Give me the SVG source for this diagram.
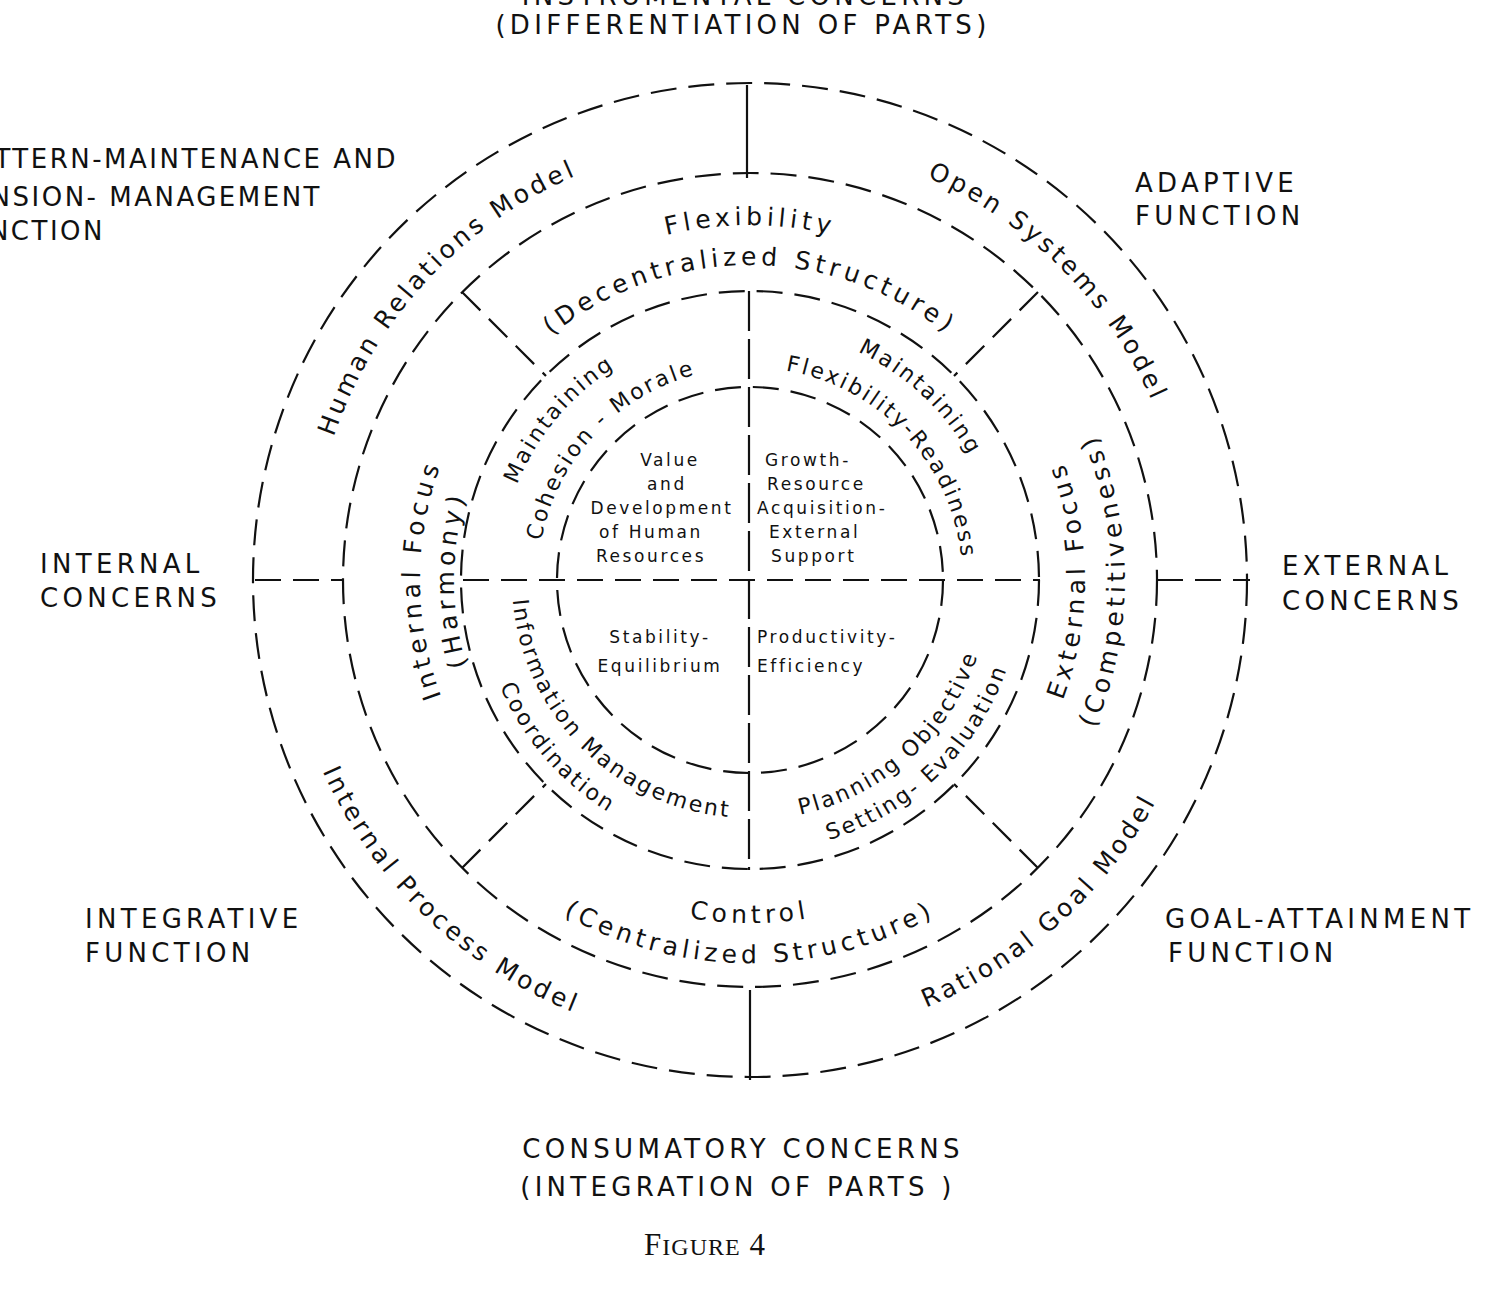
<svg xmlns="http://www.w3.org/2000/svg" width="1493" height="1295" viewBox="0 0 1493 1295">
<style>
.d{fill:none;stroke:#111;stroke-width:2.2;stroke-dasharray:26 12}
.s{fill:none;stroke:#111;stroke-width:2.2}
text{font-family:"DejaVu Sans","Liberation Sans",sans-serif;fill:#111}
.ext{font-size:26px;letter-spacing:4.3px}
.ring{font-size:25px;letter-spacing:3.5px}
.mid{font-size:25px;letter-spacing:4.5px}
.in{font-size:22px;letter-spacing:2.5px}
.q{font-size:17px;letter-spacing:2.6px;text-anchor:middle}
.qs{text-anchor:start}
.fig{font-family:"Liberation Serif",serif;font-size:31px;letter-spacing:1px}
</style>
<defs>
<path id="pA" d="M398.5,844.9 A440,440 0 0 1 989.6,211"/>
<path id="pB" d="M497.6,219.6 A440,440 0 0 1 1110.4,832.4"/>
<path id="pC" d="M465.4,944.1 A462,462 0 0 0 1141.8,335.1"/>
<path id="pD" d="M352,340 A462,462 0 0 0 1005,965"/>
<path id="pE" d="M400.4,518.4 A355,355 0 0 1 1099.6,518.4"/>
<path id="pF" d="M439.8,525.3 A315,315 0 0 1 1060.2,525.3"/>
<path id="pG" d="M412.2,639.7 A343,343 0 0 0 1087.8,639.7"/>
<path id="pH" d="M372.8,646.6 A383,383 0 0 0 1127.2,646.6"/>
<path id="pI" d="M557,742 A252,252 0 0 1 876,361.8"/>
<path id="pJ" d="M580.6,707.6 A212,212 0 0 1 865.5,402.1"/>
<path id="pK" d="M598.3,378.7 A252,252 0 0 1 961.4,717.3"/>
<path id="pL" d="M634.5,402.1 A212,212 0 0 1 919.4,707.6"/>
<path id="pM" d="M555.1,443.4 A238,238 0 0 0 886.6,774.9"/>
<path id="pN" d="M538.6,408.9 A272,272 0 0 0 890.1,813.1"/>
<path id="pO" d="M602.2,769.1 A240,240 0 0 0 953.5,452.8"/>
<path id="pP" d="M590.1,800 A272,272 0 0 0 975.5,428"/>
<path id="pQ" d="M692.7,905 A330,330 0 0 1 692.7,255"/>
<path id="pR" d="M698.6,871.5 A296,296 0 0 1 698.6,288.5"/>
<path id="pS" d="M808.2,909.9 A335,335 0 0 0 808.2,250.1"/>
<path id="pT" d="M815.1,949.3 A375,375 0 0 0 815.1,210.7"/>
</defs>
<g id="connectors">
<circle class="d" cx="750" cy="580" r="497"/>
<circle class="d" cx="750" cy="580" r="407"/>
<circle class="d" cx="750" cy="580" r="289"/>
<circle class="d" cx="750" cy="580" r="193"/>
<line class="d" x1="255" y1="580" x2="343" y2="580"/>
<line class="d" x1="1157" y1="580" x2="1250" y2="580"/>
<line class="d" x1="463" y1="580" x2="1040" y2="580"/>
<line class="s" x1="747" y1="85" x2="747" y2="178"/>
<line class="s" x1="750" y1="990" x2="750" y2="1080"/>
<line class="d" x1="749" y1="291" x2="749" y2="870" style="stroke-dasharray:40 8"/>
<line class="d" x1="462" y1="292" x2="546" y2="376"/>
<line class="d" x1="1038" y1="292" x2="954" y2="376"/>
<line class="d" x1="462" y1="868" x2="546" y2="784"/>
<line class="d" x1="1038" y1="868" x2="954" y2="784"/>
</g>
<g id="outer-labels" class="ext">
<text x="745" y="5" text-anchor="middle">INSTRUMENTAL  CONCERNS</text>
<text x="743" y="34" text-anchor="middle">(DIFFERENTIATION  OF  PARTS)</text>
<text x="398" y="168" text-anchor="end" style="letter-spacing:2.5px">PATTERN-MAINTENANCE AND</text>
<text x="322" y="206" text-anchor="end" style="letter-spacing:2.5px">TENSION- MANAGEMENT</text>
<text x="105" y="240" text-anchor="end" style="letter-spacing:2.5px">FUNCTION</text>
<text x="1135" y="192">ADAPTIVE</text>
<text x="1135" y="225">FUNCTION</text>
<text x="40" y="573">INTERNAL</text>
<text x="40" y="607">CONCERNS</text>
<text x="1282" y="575">EXTERNAL</text>
<text x="1282" y="610">CONCERNS</text>
<text x="85" y="928">INTEGRATIVE</text>
<text x="85" y="962">FUNCTION</text>
<text x="1165" y="928">GOAL-ATTAINMENT</text>
<text x="1168" y="962">FUNCTION</text>
<text x="743" y="1158" text-anchor="middle">CONSUMATORY  CONCERNS</text>
<text x="738" y="1196" text-anchor="middle">(INTEGRATION  OF  PARTS )</text>
<text class="fig" x="705" y="1255" text-anchor="middle">F<tspan font-size="24">IGURE</tspan> 4</text>
</g>
<g id="models" class="ring" text-anchor="middle">
<text><textPath href="#pA" startOffset="50%">Human Relations Model</textPath></text>
<text><textPath href="#pB" startOffset="50%">Open Systems Model</textPath></text>
<text><textPath href="#pC" startOffset="50%">Rational Goal Model</textPath></text>
<text><textPath href="#pD" startOffset="50%">Internal Process Model</textPath></text>
</g>
<g id="values" class="mid" text-anchor="middle">
<text><textPath href="#pE" startOffset="50%">Flexibility</textPath></text>
<text><textPath href="#pF" startOffset="50%">(Decentralized Structure)</textPath></text>
<text><textPath href="#pG" startOffset="50%">Control</textPath></text>
<text><textPath href="#pH" startOffset="50%">(Centralized Structure)</textPath></text>
<text><textPath href="#pQ" startOffset="50%">Internal Focus</textPath></text>
<text><textPath href="#pR" startOffset="50%">(Harmony)</textPath></text>
<text><textPath href="#pS" startOffset="50%">External Focus</textPath></text>
<text><textPath href="#pT" startOffset="50%">(Competitiveness)</textPath></text>
</g>
<g id="means" class="in" text-anchor="middle">
<text><textPath href="#pI" startOffset="50%">Maintaining</textPath></text>
<text><textPath href="#pJ" startOffset="50%">Cohesion - Morale</textPath></text>
<text><textPath href="#pK" startOffset="50%">Maintaining</textPath></text>
<text><textPath href="#pL" startOffset="50%">Flexibility-Readiness</textPath></text>
<text><textPath href="#pM" startOffset="50%">Information Management</textPath></text>
<text><textPath href="#pN" startOffset="50%">Coordination</textPath></text>
<text><textPath href="#pO" startOffset="50%">Planning Objective</textPath></text>
<text><textPath href="#pP" startOffset="50%">Setting- Evaluation</textPath></text>
</g>
<g id="ends" class="q">
<text x="670" y="466">Value</text>
<text x="667" y="490">and</text>
<text x="662" y="514">Development</text>
<text x="651" y="538">of  Human</text>
<text x="651" y="562">Resources</text>
<text class="qs" x="765" y="466">Growth-</text>
<text class="qs" x="767" y="490">Resource</text>
<text class="qs" x="757" y="514">Acquisition-</text>
<text class="qs" x="769" y="538">External</text>
<text class="qs" x="771" y="562">Support</text>
<text x="660" y="643">Stability-</text>
<text x="660" y="672">Equilibrium</text>
<text class="qs" x="757" y="643">Productivity-</text>
<text class="qs" x="757" y="672">Efficiency</text>
</g>
</svg>
